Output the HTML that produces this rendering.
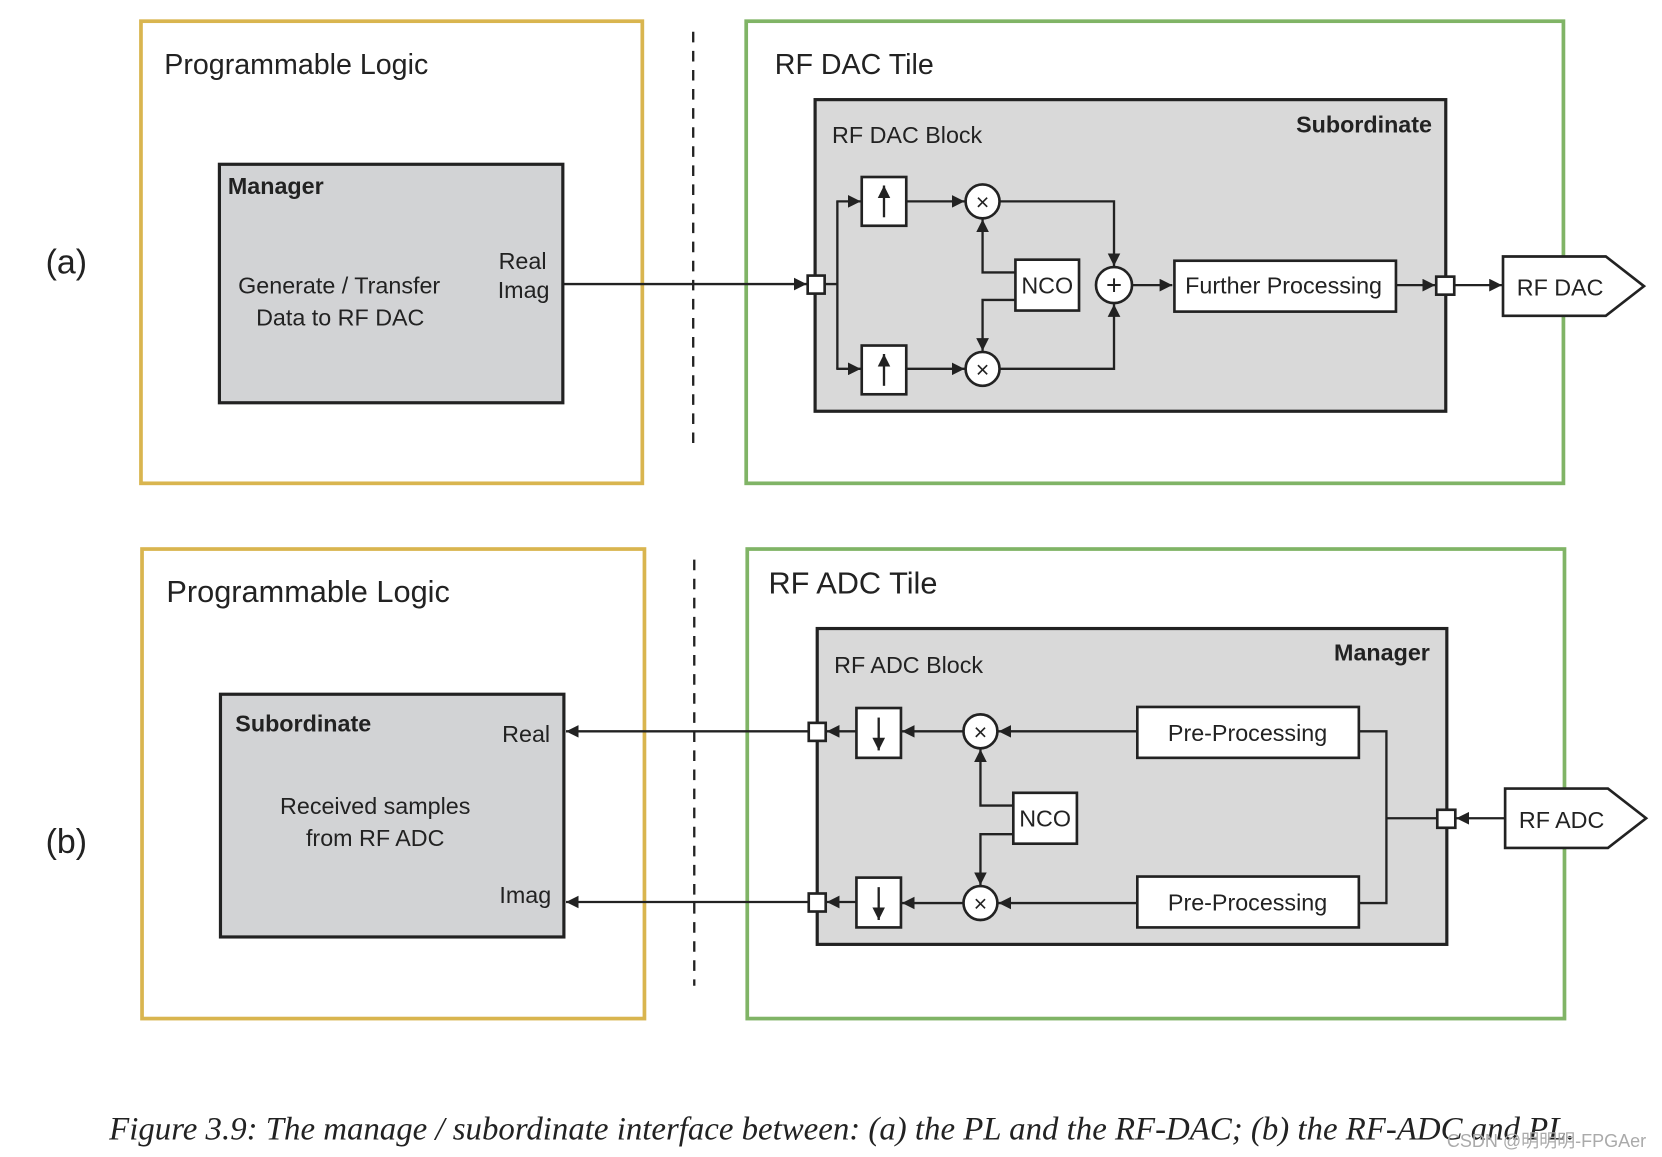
<!DOCTYPE html>
<html><head><meta charset="utf-8"><style>
html,body{margin:0;padding:0;background:#fff;}
svg{display:block;}
text{font-family:"Liberation Sans",Arial,sans-serif;fill:#222;}
</style></head><body>
<svg width="1662" height="1157" viewBox="0 0 1568 1091.6" preserveAspectRatio="none" xmlns="http://www.w3.org/2000/svg">
<defs>
<marker id="ar" viewBox="0 0 10 10" refX="10" refY="5" markerWidth="12" markerHeight="12" orient="auto" markerUnits="userSpaceOnUse">
<path d="M0,0 L10,5 L0,10 z" fill="#222"/></marker>
</defs>
<style>
.ln{stroke:#222;stroke-width:2.2;fill:none}
.bx{stroke:#222;stroke-width:2.5;fill:#fff}
</style>
<!-- (a) -->
<text x="43" y="258" font-size="32">(a)</text>
<rect x="133" y="20" width="473" height="436" fill="none" stroke="#d9b54f" stroke-width="3.5"/>
<text x="155" y="70" font-size="27">Programmable Logic</text>
<line x1="654" y1="30" x2="654" y2="425" stroke="#222" stroke-width="2.2" stroke-dasharray="10,8"/>
<rect x="704" y="20" width="771" height="436" fill="none" stroke="#80b466" stroke-width="3.5"/>
<text x="731" y="70" font-size="27">RF DAC Tile</text>
<rect x="207" y="155" width="324" height="225" fill="#d2d3d5" stroke="#222" stroke-width="3"/>
<text x="215" y="183" font-size="22" font-weight="bold">Manager</text>
<text x="320" y="277" font-size="22" text-anchor="middle">Generate / Transfer</text>
<text x="321" y="307" font-size="22" text-anchor="middle">Data to RF DAC</text>
<text x="493" y="254" font-size="22" text-anchor="middle">Real</text>
<text x="494" y="281" font-size="22" text-anchor="middle">Imag</text>
<line class="ln" x1="531" y1="268" x2="761" y2="268" marker-end="url(#ar)"/>
<rect x="769" y="94" width="595" height="294" fill="#d9d9d9" stroke="#222" stroke-width="3"/>
<text x="785" y="135" font-size="22">RF DAC Block</text>
<text x="1351" y="125" font-size="22" font-weight="bold" text-anchor="end">Subordinate</text>
<path class="ln" d="M778,268 H790 M790,190 V348" />
<line class="ln" x1="789" y1="190" x2="812" y2="190" marker-end="url(#ar)"/>
<line class="ln" x1="789" y1="348" x2="812" y2="348" marker-end="url(#ar)"/>
<rect class="bx" x="762" y="260" width="16" height="17"/>
<rect class="bx" x="813" y="167" width="42" height="46"/>
<rect class="bx" x="813" y="326" width="42" height="46"/>
<line class="ln" x1="834" y1="205" x2="834" y2="175" marker-end="url(#ar)"/>
<line class="ln" x1="834" y1="364" x2="834" y2="334" marker-end="url(#ar)"/>
<line class="ln" x1="855" y1="190" x2="910" y2="190" marker-end="url(#ar)"/>
<line class="ln" x1="855" y1="348" x2="910" y2="348" marker-end="url(#ar)"/>
<path class="ln" d="M958,257 H927 V207" marker-end="url(#ar)"/>
<path class="ln" d="M958,283 H927 V331" marker-end="url(#ar)"/>
<path class="ln" d="M943,190 H1051 V251" marker-end="url(#ar)"/>
<path class="ln" d="M943,348 H1051 V287" marker-end="url(#ar)"/>
<circle class="bx" cx="927" cy="190" r="16"/><text x="927" y="198" font-size="22" text-anchor="middle">×</text>
<circle class="bx" cx="927" cy="348" r="16"/><text x="927" y="356" font-size="22" text-anchor="middle">×</text>
<circle class="bx" cx="1051" cy="269" r="17"/><text x="1051" y="278" font-size="26" text-anchor="middle">+</text>
<rect class="bx" x="958" y="245" width="60" height="48"/>
<text x="988" y="277" font-size="22" text-anchor="middle">NCO</text>
<line class="ln" x1="1068" y1="269" x2="1106" y2="269" marker-end="url(#ar)"/>
<rect class="bx" x="1108" y="246" width="209" height="48"/>
<text x="1211" y="277" font-size="22" text-anchor="middle">Further Processing</text>
<line class="ln" x1="1317" y1="269" x2="1354" y2="269" marker-end="url(#ar)"/>
<line class="ln" x1="1372" y1="269" x2="1417" y2="269" marker-end="url(#ar)"/>
<rect class="bx" x="1355" y="261" width="17" height="17"/>
<path class="bx" d="M1418,242 H1515 L1551,270 L1515,298 H1418 Z"/>
<text x="1431" y="279" font-size="22">RF DAC</text>

<!-- (b) -->
<text x="43" y="805" font-size="32">(b)</text>
<rect x="134" y="518" width="474" height="443" fill="none" stroke="#d9b54f" stroke-width="3.5"/>
<text x="157" y="568" font-size="29">Programmable Logic</text>
<line x1="655" y1="528" x2="655" y2="930" stroke="#222" stroke-width="2.2" stroke-dasharray="10,8"/>
<rect x="705" y="518" width="771" height="443" fill="none" stroke="#80b466" stroke-width="3.5"/>
<text x="725" y="560" font-size="29">RF ADC Tile</text>
<rect x="208" y="655" width="324" height="229" fill="#d2d3d5" stroke="#222" stroke-width="3"/>
<text x="222" y="690" font-size="22" font-weight="bold">Subordinate</text>
<text x="519" y="700" font-size="22" text-anchor="end">Real</text>
<text x="354" y="768" font-size="22" text-anchor="middle">Received samples</text>
<text x="354" y="798" font-size="22" text-anchor="middle">from RF ADC</text>
<text x="520" y="852" font-size="22" text-anchor="end">Imag</text>
<line class="ln" x1="763" y1="690" x2="534" y2="690" marker-end="url(#ar)"/>
<line class="ln" x1="763" y1="851" x2="534" y2="851" marker-end="url(#ar)"/>
<rect x="771" y="593" width="594" height="298" fill="#d9d9d9" stroke="#222" stroke-width="3"/>
<text x="787" y="635" font-size="22">RF ADC Block</text>
<text x="1349" y="623" font-size="22" font-weight="bold" text-anchor="end">Manager</text>
<line class="ln" x1="808" y1="690" x2="780" y2="690" marker-end="url(#ar)"/>
<line class="ln" x1="808" y1="851" x2="780" y2="851" marker-end="url(#ar)"/>
<rect class="bx" x="763" y="682" width="16" height="17"/>
<rect class="bx" x="763" y="843" width="16" height="17"/>
<rect class="bx" x="808" y="668" width="42" height="47"/>
<rect class="bx" x="808" y="828" width="42" height="47"/>
<line class="ln" x1="829" y1="677" x2="829" y2="708" marker-end="url(#ar)"/>
<line class="ln" x1="829" y1="837" x2="829" y2="868" marker-end="url(#ar)"/>
<line class="ln" x1="909" y1="690" x2="851" y2="690" marker-end="url(#ar)"/>
<line class="ln" x1="909" y1="852" x2="851" y2="852" marker-end="url(#ar)"/>
<line class="ln" x1="1073" y1="690" x2="942" y2="690" marker-end="url(#ar)"/>
<line class="ln" x1="1073" y1="852" x2="942" y2="852" marker-end="url(#ar)"/>
<path class="ln" d="M956,760 H925 V707" marker-end="url(#ar)"/>
<path class="ln" d="M956,787 H925 V835" marker-end="url(#ar)"/>
<circle class="bx" cx="925" cy="690" r="16"/><text x="925" y="698" font-size="22" text-anchor="middle">×</text>
<circle class="bx" cx="925" cy="852" r="16"/><text x="925" y="860" font-size="22" text-anchor="middle">×</text>
<rect class="bx" x="956" y="748" width="60" height="48"/>
<text x="986" y="780" font-size="22" text-anchor="middle">NCO</text>
<rect class="bx" x="1073" y="667" width="209" height="48"/>
<text x="1177" y="699" font-size="22" text-anchor="middle">Pre-Processing</text>
<rect class="bx" x="1073" y="827" width="209" height="48"/>
<text x="1177" y="859" font-size="22" text-anchor="middle">Pre-Processing</text>
<path class="ln" d="M1282,690 H1308 V852 H1282 M1308,772 H1356"/>
<rect class="bx" x="1356" y="764" width="17" height="17"/>
<line class="ln" x1="1420" y1="772" x2="1374" y2="772" marker-end="url(#ar)"/>
<path class="bx" d="M1420,744 H1517 L1553,772 L1517,800 H1420 Z"/>
<text x="1433" y="781" font-size="22">RF ADC</text>

<text x="103" y="1075" font-size="31" font-style="italic" style="font-family:'Liberation Serif',serif">Figure 3.9:  The manage / subordinate interface between: (a) the PL and the RF-DAC; (b) the RF-ADC and PL.</text>
<text x="1365" y="1082" font-size="17" style="fill:#aaa;font-family:'Liberation Sans','Noto Sans CJK SC',sans-serif">CSDN @明明明-FPGAer</text>
</svg>
</body></html>
